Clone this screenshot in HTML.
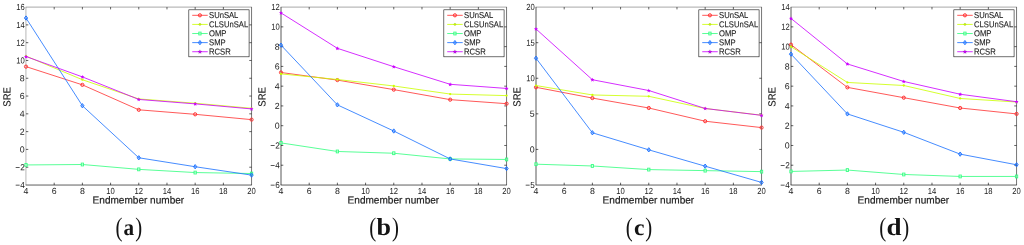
<!DOCTYPE html>
<html lang="en"><head><meta charset="utf-8"><title>SRE vs Endmember number</title>
<style>html,body{margin:0;padding:0;background:#fff;}body{width:1024px;height:245px;position:relative;overflow:hidden;}</style>
</head><body>
<svg text-rendering="geometricPrecision" width="1024" height="245" viewBox="0 0 1024 245" style="display:block;position:absolute;left:0;top:0">
<rect width="1024" height="245" fill="#fff"/>
<g><path d="M25.70 7.10H251.85" fill="none" stroke="#0a0a0a" stroke-width="0.36"/>
<path d="M25.93 7.10V185.00" fill="none" stroke="#0a0a0a" stroke-width="0.3"/>
<path d="M25.70 185.04H251.85" fill="none" stroke="#0a0a0a" stroke-width="0.66"/>
<path d="M251.55 7.10V185.00" fill="none" stroke="#0a0a0a" stroke-width="0.56"/>
<path d="M54.19 185.00v-2.3M54.19 7.10v2.3M82.39 185.00v-2.3M82.39 7.10v2.3M110.58 185.00v-2.3M110.58 7.10v2.3M138.78 185.00v-2.3M138.78 7.10v2.3M166.97 185.00v-2.3M166.97 7.10v2.3M195.16 185.00v-2.3M195.16 7.10v2.3M223.36 185.00v-2.3M223.36 7.10v2.3M26.00 167.21h2.3M251.55 167.21h-2.3M26.00 149.42h2.3M251.55 149.42h-2.3M26.00 131.63h2.3M251.55 131.63h-2.3M26.00 113.84h2.3M251.55 113.84h-2.3M26.00 96.05h2.3M251.55 96.05h-2.3M26.00 78.26h2.3M251.55 78.26h-2.3M26.00 60.47h2.3M251.55 60.47h-2.3M26.00 42.68h2.3M251.55 42.68h-2.3M26.00 24.89h2.3M251.55 24.89h-2.3" stroke="#000" stroke-width="0.62" fill="none"/>
<polyline points="26.00,66.62 82.39,84.85 138.78,109.81 195.16,114.32 251.55,119.63" fill="none" stroke="#ff3333" stroke-opacity="1" stroke-width="0.82" stroke-linejoin="round"/>
<circle cx="26.00" cy="66.62" r="1.6" fill="#ff3333" fill-opacity="0.1" stroke="#ff3333" stroke-width="1.0"/>
<circle cx="82.39" cy="84.85" r="1.6" fill="#ff3333" fill-opacity="0.1" stroke="#ff3333" stroke-width="1.0"/>
<circle cx="138.78" cy="109.81" r="1.6" fill="#ff3333" fill-opacity="0.1" stroke="#ff3333" stroke-width="1.0"/>
<circle cx="195.16" cy="114.32" r="1.6" fill="#ff3333" fill-opacity="0.1" stroke="#ff3333" stroke-width="1.0"/>
<circle cx="251.55" cy="119.63" r="1.6" fill="#ff3333" fill-opacity="0.1" stroke="#ff3333" stroke-width="1.0"/>
<polyline points="26.00,56.09 82.39,79.72 138.78,98.92 195.16,103.26 251.55,108.31" fill="none" stroke="#ccff00" stroke-opacity="1" stroke-width="0.82" stroke-linejoin="round"/>
<circle cx="26.00" cy="56.09" r="1.15" fill="#ccff00"/>
<circle cx="82.39" cy="79.72" r="1.15" fill="#ccff00"/>
<circle cx="138.78" cy="98.92" r="1.15" fill="#ccff00"/>
<circle cx="195.16" cy="103.26" r="1.15" fill="#ccff00"/>
<circle cx="251.55" cy="108.31" r="1.15" fill="#ccff00"/>
<polyline points="26.00,164.95 82.39,164.50 138.78,169.37 195.16,172.56 251.55,173.53" fill="none" stroke="#33ff80" stroke-opacity="1" stroke-width="0.82" stroke-linejoin="round"/>
<rect x="24.85" y="163.55" width="2.3" height="2.8" fill="#fff" fill-opacity="0.4" stroke="#33ff80" stroke-width="0.9"/>
<rect x="81.24" y="163.10" width="2.3" height="2.8" fill="#fff" fill-opacity="0.4" stroke="#33ff80" stroke-width="0.9"/>
<rect x="137.62" y="167.97" width="2.3" height="2.8" fill="#fff" fill-opacity="0.4" stroke="#33ff80" stroke-width="0.9"/>
<rect x="194.01" y="171.16" width="2.3" height="2.8" fill="#fff" fill-opacity="0.4" stroke="#33ff80" stroke-width="0.9"/>
<rect x="250.40" y="172.13" width="2.3" height="2.8" fill="#fff" fill-opacity="0.4" stroke="#33ff80" stroke-width="0.9"/>
<polyline points="26.00,18.03 82.39,105.74 138.78,157.78 195.16,166.72 251.55,175.12" fill="none" stroke="#1c72ff" stroke-opacity="1" stroke-width="0.82" stroke-linejoin="round"/>
<path d="M26.00 15.88L27.60 18.03L26.00 20.18L24.40 18.03Z" fill="#1c72ff" fill-opacity="0.3" stroke="#1c72ff" stroke-width="0.95"/>
<path d="M82.39 103.59L83.99 105.74L82.39 107.89L80.79 105.74Z" fill="#1c72ff" fill-opacity="0.3" stroke="#1c72ff" stroke-width="0.95"/>
<path d="M138.78 155.63L140.38 157.78L138.78 159.93L137.18 157.78Z" fill="#1c72ff" fill-opacity="0.3" stroke="#1c72ff" stroke-width="0.95"/>
<path d="M195.16 164.56L196.76 166.72L195.16 168.87L193.56 166.72Z" fill="#1c72ff" fill-opacity="0.3" stroke="#1c72ff" stroke-width="0.95"/>
<path d="M251.55 172.97L253.15 175.12L251.55 177.27L249.95 175.12Z" fill="#1c72ff" fill-opacity="0.3" stroke="#1c72ff" stroke-width="0.95"/>
<polyline points="26.00,56.53 82.39,76.89 138.78,99.45 195.16,103.88 251.55,108.92" fill="none" stroke="#cc00ff" stroke-opacity="1" stroke-width="0.82" stroke-linejoin="round"/>
<polygon points="26.00,54.53 26.56,55.91 28.04,56.02 26.90,56.98 27.26,58.42 26.00,57.63 24.74,58.42 25.10,56.98 23.96,56.02 25.44,55.91" fill="#cc00ff"/>
<polygon points="82.39,74.89 82.95,76.27 84.43,76.37 83.29,77.33 83.65,78.78 82.39,77.99 81.12,78.78 81.48,77.33 80.34,76.37 81.83,76.27" fill="#cc00ff"/>
<polygon points="138.78,97.45 139.33,98.84 140.82,98.94 139.68,99.90 140.04,101.34 138.78,100.56 137.51,101.34 137.87,99.90 136.73,98.94 138.22,98.84" fill="#cc00ff"/>
<polygon points="195.16,101.88 195.72,103.26 197.21,103.37 196.07,104.32 196.43,105.77 195.16,104.98 193.90,105.77 194.26,104.32 193.12,103.37 194.60,103.26" fill="#cc00ff"/>
<polygon points="251.55,106.92 252.11,108.31 253.59,108.41 252.45,109.37 252.81,110.81 251.55,110.02 250.29,110.81 250.65,109.37 249.51,108.41 250.99,108.31" fill="#cc00ff"/>
<g font-family="'Liberation Sans',Arial,Helvetica,sans-serif" fill="#1c1c1c" stroke="#1c1c1c" stroke-width="0.12">
<text transform="translate(26.00 194.00) rotate(0.04)" font-size="8.8" text-anchor="middle" stroke="none">4</text>
<text transform="translate(54.19 194.00) rotate(0.04)" font-size="8.8" text-anchor="middle" stroke="none">6</text>
<text transform="translate(82.39 194.00) rotate(0.04)" font-size="8.8" text-anchor="middle" stroke="none">8</text>
<text transform="translate(110.58 194.00) rotate(0.04) scale(0.87 1)" font-size="8.8" text-anchor="middle" stroke="none">10</text>
<text transform="translate(138.78 194.00) rotate(0.04) scale(0.87 1)" font-size="8.8" text-anchor="middle" stroke="none">12</text>
<text transform="translate(166.97 194.00) rotate(0.04) scale(0.87 1)" font-size="8.8" text-anchor="middle" stroke="none">14</text>
<text transform="translate(195.16 194.00) rotate(0.04) scale(0.87 1)" font-size="8.8" text-anchor="middle" stroke="none">16</text>
<text transform="translate(223.36 194.00) rotate(0.04) scale(0.87 1)" font-size="8.8" text-anchor="middle" stroke="none">18</text>
<text transform="translate(251.55 194.00) rotate(0.04) scale(0.87 1)" font-size="8.8" text-anchor="middle" stroke="none">20</text>
<text transform="translate(24.70 188.00) rotate(0.04) scale(0.93 1)" font-size="8.8" text-anchor="end" stroke="none">−4</text>
<text transform="translate(24.70 170.21) rotate(0.04) scale(0.93 1)" font-size="8.8" text-anchor="end" stroke="none">−2</text>
<text transform="translate(24.70 152.42) rotate(0.04)" font-size="8.8" text-anchor="end" stroke="none">0</text>
<text transform="translate(24.70 134.63) rotate(0.04)" font-size="8.8" text-anchor="end" stroke="none">2</text>
<text transform="translate(24.70 116.84) rotate(0.04)" font-size="8.8" text-anchor="end" stroke="none">4</text>
<text transform="translate(24.70 99.05) rotate(0.04)" font-size="8.8" text-anchor="end" stroke="none">6</text>
<text transform="translate(24.70 81.26) rotate(0.04)" font-size="8.8" text-anchor="end" stroke="none">8</text>
<text transform="translate(24.70 63.47) rotate(0.04) scale(0.87 1)" font-size="8.8" text-anchor="end" stroke="none">10</text>
<text transform="translate(24.70 45.68) rotate(0.04) scale(0.87 1)" font-size="8.8" text-anchor="end" stroke="none">12</text>
<text transform="translate(24.70 27.89) rotate(0.04) scale(0.87 1)" font-size="8.8" text-anchor="end" stroke="none">14</text>
<text transform="translate(24.70 10.10) rotate(0.04) scale(0.87 1)" font-size="8.8" text-anchor="end" stroke="none">16</text>
<text transform="translate(138.38 203.55) rotate(0.04) scale(0.976 1)" font-size="10.3" text-anchor="middle" stroke-width="0.2">Endmember number</text>
<text transform="translate(10.60 96.95) rotate(-89.96) scale(0.91 1)" font-size="10.4" text-anchor="middle">SRE</text>
<rect x="188.83" y="9.82" width="60.25" height="47.0" fill="#fff" stroke="#0a0a0a" stroke-width="0.58"/>
<path d="M192.23 15.32H207.73" stroke="#ff3333" stroke-opacity="1" stroke-width="0.82"/>
<circle cx="199.93" cy="15.32" r="1.6" fill="#ff3333" fill-opacity="0.1" stroke="#ff3333" stroke-width="1.0"/>
<text transform="translate(209.03 18.07) rotate(0.04) scale(0.89 1)" font-size="8.6" text-anchor="start">SUnSAL</text>
<path d="M192.23 24.42H207.73" stroke="#ccff00" stroke-opacity="1" stroke-width="0.82"/>
<circle cx="199.93" cy="24.42" r="1.15" fill="#ccff00"/>
<text transform="translate(209.03 27.17) rotate(0.04) scale(0.89 1)" font-size="8.6" text-anchor="start">CLSUnSAL</text>
<path d="M192.23 33.52H207.73" stroke="#33ff80" stroke-opacity="1" stroke-width="0.82"/>
<rect x="198.78" y="32.12" width="2.3" height="2.8" fill="#fff" fill-opacity="0.4" stroke="#33ff80" stroke-width="0.9"/>
<text transform="translate(209.03 36.27) rotate(0.04) scale(0.89 1)" font-size="8.6" text-anchor="start">OMP</text>
<path d="M192.23 42.62H207.73" stroke="#1c72ff" stroke-opacity="1" stroke-width="0.82"/>
<path d="M199.93 40.47L201.53 42.62L199.93 44.77L198.33 42.62Z" fill="#1c72ff" fill-opacity="0.3" stroke="#1c72ff" stroke-width="0.95"/>
<text transform="translate(209.03 45.37) rotate(0.04) scale(0.89 1)" font-size="8.6" text-anchor="start">SMP</text>
<path d="M192.23 51.72H207.73" stroke="#cc00ff" stroke-opacity="1" stroke-width="0.82"/>
<polygon points="199.93,49.72 200.49,51.10 201.97,51.21 200.83,52.16 201.19,53.61 199.93,52.82 198.67,53.61 199.03,52.16 197.89,51.21 199.37,51.10" fill="#cc00ff"/>
<text transform="translate(209.03 54.47) rotate(0.04) scale(0.89 1)" font-size="8.6" text-anchor="start">RCSR</text>
</g>
<text font-family="'Liberation Serif','Times New Roman',serif" fill="#141414" font-size="26.8"><tspan x="115.52" y="236.30" textLength="6.96" lengthAdjust="spacingAndGlyphs">(</tspan><tspan x="123.55" y="235.30" font-size="22.8" font-weight="bold" textLength="10.60" lengthAdjust="spacingAndGlyphs">a</tspan><tspan x="135.32" y="236.30" textLength="6.96" lengthAdjust="spacingAndGlyphs">)</tspan></text></g>
<g><path d="M280.70 7.10H506.85" fill="none" stroke="#0a0a0a" stroke-width="0.36"/>
<path d="M281.00 7.10V185.00" fill="none" stroke="#0a0a0a" stroke-width="0.68"/>
<path d="M280.70 185.04H506.85" fill="none" stroke="#0a0a0a" stroke-width="0.66"/>
<path d="M506.55 7.10V185.00" fill="none" stroke="#0a0a0a" stroke-width="0.56"/>
<path d="M309.19 185.00v-2.3M309.19 7.10v2.3M337.39 185.00v-2.3M337.39 7.10v2.3M365.58 185.00v-2.3M365.58 7.10v2.3M393.77 185.00v-2.3M393.77 7.10v2.3M421.97 185.00v-2.3M421.97 7.10v2.3M450.16 185.00v-2.3M450.16 7.10v2.3M478.36 185.00v-2.3M478.36 7.10v2.3M281.00 165.23h2.3M506.55 165.23h-2.3M281.00 145.47h2.3M506.55 145.47h-2.3M281.00 125.70h2.3M506.55 125.70h-2.3M281.00 105.93h2.3M506.55 105.93h-2.3M281.00 86.17h2.3M506.55 86.17h-2.3M281.00 66.40h2.3M506.55 66.40h-2.3M281.00 46.63h2.3M506.55 46.63h-2.3M281.00 26.87h2.3M506.55 26.87h-2.3" stroke="#000" stroke-width="0.62" fill="none"/>
<polyline points="281.00,72.51 337.39,80.08 393.77,89.62 450.16,99.65 506.55,103.68" fill="none" stroke="#ff3333" stroke-opacity="1" stroke-width="0.82" stroke-linejoin="round"/>
<circle cx="281.00" cy="72.51" r="1.6" fill="#ff3333" fill-opacity="0.1" stroke="#ff3333" stroke-width="1.0"/>
<circle cx="337.39" cy="80.08" r="1.6" fill="#ff3333" fill-opacity="0.1" stroke="#ff3333" stroke-width="1.0"/>
<circle cx="393.77" cy="89.62" r="1.6" fill="#ff3333" fill-opacity="0.1" stroke="#ff3333" stroke-width="1.0"/>
<circle cx="450.16" cy="99.65" r="1.6" fill="#ff3333" fill-opacity="0.1" stroke="#ff3333" stroke-width="1.0"/>
<circle cx="506.55" cy="103.68" r="1.6" fill="#ff3333" fill-opacity="0.1" stroke="#ff3333" stroke-width="1.0"/>
<polyline points="281.00,73.89 337.39,79.49 393.77,85.98 450.16,94.05 506.55,95.62" fill="none" stroke="#ccff00" stroke-opacity="1" stroke-width="0.82" stroke-linejoin="round"/>
<circle cx="281.00" cy="73.89" r="1.15" fill="#ccff00"/>
<circle cx="337.39" cy="79.49" r="1.15" fill="#ccff00"/>
<circle cx="393.77" cy="85.98" r="1.15" fill="#ccff00"/>
<circle cx="450.16" cy="94.05" r="1.15" fill="#ccff00"/>
<circle cx="506.55" cy="95.62" r="1.15" fill="#ccff00"/>
<polyline points="281.00,142.92 337.39,151.47 393.77,153.24 450.16,158.95 506.55,159.44" fill="none" stroke="#33ff80" stroke-opacity="1" stroke-width="0.82" stroke-linejoin="round"/>
<rect x="279.85" y="141.52" width="2.3" height="2.8" fill="#fff" fill-opacity="0.4" stroke="#33ff80" stroke-width="0.9"/>
<rect x="336.24" y="150.07" width="2.3" height="2.8" fill="#fff" fill-opacity="0.4" stroke="#33ff80" stroke-width="0.9"/>
<rect x="392.62" y="151.84" width="2.3" height="2.8" fill="#fff" fill-opacity="0.4" stroke="#33ff80" stroke-width="0.9"/>
<rect x="449.01" y="157.55" width="2.3" height="2.8" fill="#fff" fill-opacity="0.4" stroke="#33ff80" stroke-width="0.9"/>
<rect x="505.40" y="158.04" width="2.3" height="2.8" fill="#fff" fill-opacity="0.4" stroke="#33ff80" stroke-width="0.9"/>
<polyline points="281.00,45.17 337.39,104.86 393.77,131.02 450.16,158.95 506.55,168.58" fill="none" stroke="#1c72ff" stroke-opacity="1" stroke-width="0.82" stroke-linejoin="round"/>
<path d="M281.00 43.02L282.60 45.17L281.00 47.32L279.40 45.17Z" fill="#1c72ff" fill-opacity="0.3" stroke="#1c72ff" stroke-width="0.95"/>
<path d="M337.39 102.71L338.99 104.86L337.39 107.01L335.79 104.86Z" fill="#1c72ff" fill-opacity="0.3" stroke="#1c72ff" stroke-width="0.95"/>
<path d="M393.77 128.87L395.38 131.02L393.77 133.17L392.17 131.02Z" fill="#1c72ff" fill-opacity="0.3" stroke="#1c72ff" stroke-width="0.95"/>
<path d="M450.16 156.80L451.76 158.95L450.16 161.10L448.56 158.95Z" fill="#1c72ff" fill-opacity="0.3" stroke="#1c72ff" stroke-width="0.95"/>
<path d="M506.55 166.43L508.15 168.58L506.55 170.73L504.95 168.58Z" fill="#1c72ff" fill-opacity="0.3" stroke="#1c72ff" stroke-width="0.95"/>
<polyline points="281.00,12.92 337.39,48.32 393.77,66.71 450.16,84.31 506.55,88.44" fill="none" stroke="#cc00ff" stroke-opacity="1" stroke-width="0.82" stroke-linejoin="round"/>
<polygon points="281.00,10.92 281.56,12.30 283.04,12.41 281.90,13.37 282.26,14.81 281.00,14.02 279.74,14.81 280.10,13.37 278.96,12.41 280.44,12.30" fill="#cc00ff"/>
<polygon points="337.39,46.32 337.95,47.70 339.43,47.81 338.29,48.77 338.65,50.21 337.39,49.42 336.12,50.21 336.48,48.77 335.34,47.81 336.83,47.70" fill="#cc00ff"/>
<polygon points="393.77,64.71 394.33,66.09 395.82,66.20 394.68,67.15 395.04,68.60 393.77,67.81 392.51,68.60 392.87,67.15 391.73,66.20 393.22,66.09" fill="#cc00ff"/>
<polygon points="450.16,82.31 450.72,83.69 452.21,83.80 451.07,84.76 451.43,86.20 450.16,85.41 448.90,86.20 449.26,84.76 448.12,83.80 449.60,83.69" fill="#cc00ff"/>
<polygon points="506.55,86.44 507.11,87.82 508.59,87.93 507.45,88.89 507.81,90.33 506.55,89.54 505.29,90.33 505.65,88.89 504.51,87.93 505.99,87.82" fill="#cc00ff"/>
<g font-family="'Liberation Sans',Arial,Helvetica,sans-serif" fill="#1c1c1c" stroke="#1c1c1c" stroke-width="0.12">
<text transform="translate(281.00 194.00) rotate(0.04)" font-size="8.8" text-anchor="middle" stroke="none">4</text>
<text transform="translate(309.19 194.00) rotate(0.04)" font-size="8.8" text-anchor="middle" stroke="none">6</text>
<text transform="translate(337.39 194.00) rotate(0.04)" font-size="8.8" text-anchor="middle" stroke="none">8</text>
<text transform="translate(365.58 194.00) rotate(0.04) scale(0.87 1)" font-size="8.8" text-anchor="middle" stroke="none">10</text>
<text transform="translate(393.77 194.00) rotate(0.04) scale(0.87 1)" font-size="8.8" text-anchor="middle" stroke="none">12</text>
<text transform="translate(421.97 194.00) rotate(0.04) scale(0.87 1)" font-size="8.8" text-anchor="middle" stroke="none">14</text>
<text transform="translate(450.16 194.00) rotate(0.04) scale(0.87 1)" font-size="8.8" text-anchor="middle" stroke="none">16</text>
<text transform="translate(478.36 194.00) rotate(0.04) scale(0.87 1)" font-size="8.8" text-anchor="middle" stroke="none">18</text>
<text transform="translate(506.55 194.00) rotate(0.04) scale(0.87 1)" font-size="8.8" text-anchor="middle" stroke="none">20</text>
<text transform="translate(279.70 188.00) rotate(0.04) scale(0.93 1)" font-size="8.8" text-anchor="end" stroke="none">−6</text>
<text transform="translate(279.70 168.23) rotate(0.04) scale(0.93 1)" font-size="8.8" text-anchor="end" stroke="none">−4</text>
<text transform="translate(279.70 148.47) rotate(0.04) scale(0.93 1)" font-size="8.8" text-anchor="end" stroke="none">−2</text>
<text transform="translate(279.70 128.70) rotate(0.04)" font-size="8.8" text-anchor="end" stroke="none">0</text>
<text transform="translate(279.70 108.93) rotate(0.04)" font-size="8.8" text-anchor="end" stroke="none">2</text>
<text transform="translate(279.70 89.17) rotate(0.04)" font-size="8.8" text-anchor="end" stroke="none">4</text>
<text transform="translate(279.70 69.40) rotate(0.04)" font-size="8.8" text-anchor="end" stroke="none">6</text>
<text transform="translate(279.70 49.63) rotate(0.04)" font-size="8.8" text-anchor="end" stroke="none">8</text>
<text transform="translate(279.70 29.87) rotate(0.04) scale(0.87 1)" font-size="8.8" text-anchor="end" stroke="none">10</text>
<text transform="translate(279.70 10.10) rotate(0.04) scale(0.87 1)" font-size="8.8" text-anchor="end" stroke="none">12</text>
<text transform="translate(393.38 203.55) rotate(0.04) scale(0.976 1)" font-size="10.3" text-anchor="middle" stroke-width="0.2">Endmember number</text>
<text transform="translate(265.60 96.95) rotate(-89.96) scale(0.91 1)" font-size="10.4" text-anchor="middle">SRE</text>
<rect x="443.83" y="9.82" width="60.25" height="47.0" fill="#fff" stroke="#0a0a0a" stroke-width="0.58"/>
<path d="M447.23 15.32H462.73" stroke="#ff3333" stroke-opacity="1" stroke-width="0.82"/>
<circle cx="454.93" cy="15.32" r="1.6" fill="#ff3333" fill-opacity="0.1" stroke="#ff3333" stroke-width="1.0"/>
<text transform="translate(464.03 18.07) rotate(0.04) scale(0.89 1)" font-size="8.6" text-anchor="start">SUnSAL</text>
<path d="M447.23 24.42H462.73" stroke="#ccff00" stroke-opacity="1" stroke-width="0.82"/>
<circle cx="454.93" cy="24.42" r="1.15" fill="#ccff00"/>
<text transform="translate(464.03 27.17) rotate(0.04) scale(0.89 1)" font-size="8.6" text-anchor="start">CLSUnSAL</text>
<path d="M447.23 33.52H462.73" stroke="#33ff80" stroke-opacity="1" stroke-width="0.82"/>
<rect x="453.78" y="32.12" width="2.3" height="2.8" fill="#fff" fill-opacity="0.4" stroke="#33ff80" stroke-width="0.9"/>
<text transform="translate(464.03 36.27) rotate(0.04) scale(0.89 1)" font-size="8.6" text-anchor="start">OMP</text>
<path d="M447.23 42.62H462.73" stroke="#1c72ff" stroke-opacity="1" stroke-width="0.82"/>
<path d="M454.93 40.47L456.53 42.62L454.93 44.77L453.33 42.62Z" fill="#1c72ff" fill-opacity="0.3" stroke="#1c72ff" stroke-width="0.95"/>
<text transform="translate(464.03 45.37) rotate(0.04) scale(0.89 1)" font-size="8.6" text-anchor="start">SMP</text>
<path d="M447.23 51.72H462.73" stroke="#cc00ff" stroke-opacity="1" stroke-width="0.82"/>
<polygon points="454.93,49.72 455.49,51.10 456.97,51.21 455.83,52.16 456.19,53.61 454.93,52.82 453.67,53.61 454.03,52.16 452.89,51.21 454.37,51.10" fill="#cc00ff"/>
<text transform="translate(464.03 54.47) rotate(0.04) scale(0.89 1)" font-size="8.6" text-anchor="start">RCSR</text>
</g>
<text font-family="'Liberation Serif','Times New Roman',serif" fill="#141414" font-size="26.8"><tspan x="369.17" y="236.30" textLength="6.96" lengthAdjust="spacingAndGlyphs">(</tspan><tspan x="376.50" y="235.30" font-size="24.6" font-weight="bold" textLength="14.50" lengthAdjust="spacingAndGlyphs">b</tspan><tspan x="391.92" y="236.30" textLength="6.96" lengthAdjust="spacingAndGlyphs">)</tspan></text></g>
<g><path d="M535.70 7.10H761.85" fill="none" stroke="#0a0a0a" stroke-width="0.36"/>
<path d="M536.00 7.10V185.00" fill="none" stroke="#0a0a0a" stroke-width="0.68"/>
<path d="M535.70 185.04H761.85" fill="none" stroke="#0a0a0a" stroke-width="0.66"/>
<path d="M761.55 7.10V185.00" fill="none" stroke="#0a0a0a" stroke-width="0.56"/>
<path d="M564.19 185.00v-2.3M564.19 7.10v2.3M592.39 185.00v-2.3M592.39 7.10v2.3M620.58 185.00v-2.3M620.58 7.10v2.3M648.77 185.00v-2.3M648.77 7.10v2.3M676.97 185.00v-2.3M676.97 7.10v2.3M705.16 185.00v-2.3M705.16 7.10v2.3M733.36 185.00v-2.3M733.36 7.10v2.3M536.00 149.42h2.3M761.55 149.42h-2.3M536.00 113.84h2.3M761.55 113.84h-2.3M536.00 78.26h2.3M761.55 78.26h-2.3M536.00 42.68h2.3M761.55 42.68h-2.3" stroke="#000" stroke-width="0.62" fill="none"/>
<polyline points="536.00,87.31 592.39,98.07 648.77,107.99 705.16,121.23 761.55,127.60" fill="none" stroke="#ff3333" stroke-opacity="1" stroke-width="0.82" stroke-linejoin="round"/>
<circle cx="536.00" cy="87.31" r="1.6" fill="#ff3333" fill-opacity="0.1" stroke="#ff3333" stroke-width="1.0"/>
<circle cx="592.39" cy="98.07" r="1.6" fill="#ff3333" fill-opacity="0.1" stroke="#ff3333" stroke-width="1.0"/>
<circle cx="648.77" cy="107.99" r="1.6" fill="#ff3333" fill-opacity="0.1" stroke="#ff3333" stroke-width="1.0"/>
<circle cx="705.16" cy="121.23" r="1.6" fill="#ff3333" fill-opacity="0.1" stroke="#ff3333" stroke-width="1.0"/>
<circle cx="761.55" cy="127.60" r="1.6" fill="#ff3333" fill-opacity="0.1" stroke="#ff3333" stroke-width="1.0"/>
<polyline points="536.00,85.54 592.39,94.96 648.77,96.30 705.16,108.48 761.55,115.21" fill="none" stroke="#ccff00" stroke-opacity="1" stroke-width="0.82" stroke-linejoin="round"/>
<circle cx="536.00" cy="85.54" r="1.15" fill="#ccff00"/>
<circle cx="592.39" cy="94.96" r="1.15" fill="#ccff00"/>
<circle cx="648.77" cy="96.30" r="1.15" fill="#ccff00"/>
<circle cx="705.16" cy="108.48" r="1.15" fill="#ccff00"/>
<circle cx="761.55" cy="115.21" r="1.15" fill="#ccff00"/>
<polyline points="536.00,164.20 592.39,165.97 648.77,169.58 705.16,170.64 761.55,171.64" fill="none" stroke="#33ff80" stroke-opacity="1" stroke-width="0.82" stroke-linejoin="round"/>
<rect x="534.85" y="162.80" width="2.3" height="2.8" fill="#fff" fill-opacity="0.4" stroke="#33ff80" stroke-width="0.9"/>
<rect x="591.24" y="164.57" width="2.3" height="2.8" fill="#fff" fill-opacity="0.4" stroke="#33ff80" stroke-width="0.9"/>
<rect x="647.62" y="168.18" width="2.3" height="2.8" fill="#fff" fill-opacity="0.4" stroke="#33ff80" stroke-width="0.9"/>
<rect x="704.01" y="169.24" width="2.3" height="2.8" fill="#fff" fill-opacity="0.4" stroke="#33ff80" stroke-width="0.9"/>
<rect x="760.40" y="170.24" width="2.3" height="2.8" fill="#fff" fill-opacity="0.4" stroke="#33ff80" stroke-width="0.9"/>
<polyline points="536.00,58.21 592.39,132.77 648.77,149.83 705.16,166.18 761.55,182.40" fill="none" stroke="#1c72ff" stroke-opacity="1" stroke-width="0.82" stroke-linejoin="round"/>
<path d="M536.00 56.06L537.60 58.21L536.00 60.36L534.40 58.21Z" fill="#1c72ff" fill-opacity="0.3" stroke="#1c72ff" stroke-width="0.95"/>
<path d="M592.39 130.62L593.99 132.77L592.39 134.92L590.79 132.77Z" fill="#1c72ff" fill-opacity="0.3" stroke="#1c72ff" stroke-width="0.95"/>
<path d="M648.77 147.68L650.38 149.83L648.77 151.98L647.17 149.83Z" fill="#1c72ff" fill-opacity="0.3" stroke="#1c72ff" stroke-width="0.95"/>
<path d="M705.16 164.03L706.76 166.18L705.16 168.33L703.56 166.18Z" fill="#1c72ff" fill-opacity="0.3" stroke="#1c72ff" stroke-width="0.95"/>
<path d="M761.55 180.25L763.15 182.40L761.55 184.55L759.95 182.40Z" fill="#1c72ff" fill-opacity="0.3" stroke="#1c72ff" stroke-width="0.95"/>
<polyline points="536.00,28.97 592.39,79.74 648.77,90.50 705.16,108.48 761.55,115.35" fill="none" stroke="#cc00ff" stroke-opacity="1" stroke-width="0.82" stroke-linejoin="round"/>
<polygon points="536.00,26.97 536.56,28.36 538.04,28.46 536.90,29.42 537.26,30.86 536.00,30.07 534.74,30.86 535.10,29.42 533.96,28.46 535.44,28.36" fill="#cc00ff"/>
<polygon points="592.39,77.74 592.95,79.12 594.43,79.22 593.29,80.18 593.65,81.63 592.39,80.84 591.12,81.63 591.48,80.18 590.34,79.22 591.83,79.12" fill="#cc00ff"/>
<polygon points="648.77,88.50 649.33,89.88 650.82,89.98 649.68,90.94 650.04,92.39 648.77,91.60 647.51,92.39 647.87,90.94 646.73,89.98 648.22,89.88" fill="#cc00ff"/>
<polygon points="705.16,106.48 705.72,107.86 707.21,107.97 706.07,108.93 706.43,110.37 705.16,109.58 703.90,110.37 704.26,108.93 703.12,107.97 704.60,107.86" fill="#cc00ff"/>
<polygon points="761.55,113.35 762.11,114.73 763.59,114.84 762.45,115.79 762.81,117.24 761.55,116.45 760.29,117.24 760.65,115.79 759.51,114.84 760.99,114.73" fill="#cc00ff"/>
<g font-family="'Liberation Sans',Arial,Helvetica,sans-serif" fill="#1c1c1c" stroke="#1c1c1c" stroke-width="0.12">
<text transform="translate(536.00 194.00) rotate(0.04)" font-size="8.8" text-anchor="middle" stroke="none">4</text>
<text transform="translate(564.19 194.00) rotate(0.04)" font-size="8.8" text-anchor="middle" stroke="none">6</text>
<text transform="translate(592.39 194.00) rotate(0.04)" font-size="8.8" text-anchor="middle" stroke="none">8</text>
<text transform="translate(620.58 194.00) rotate(0.04) scale(0.87 1)" font-size="8.8" text-anchor="middle" stroke="none">10</text>
<text transform="translate(648.77 194.00) rotate(0.04) scale(0.87 1)" font-size="8.8" text-anchor="middle" stroke="none">12</text>
<text transform="translate(676.97 194.00) rotate(0.04) scale(0.87 1)" font-size="8.8" text-anchor="middle" stroke="none">14</text>
<text transform="translate(705.16 194.00) rotate(0.04) scale(0.87 1)" font-size="8.8" text-anchor="middle" stroke="none">16</text>
<text transform="translate(733.36 194.00) rotate(0.04) scale(0.87 1)" font-size="8.8" text-anchor="middle" stroke="none">18</text>
<text transform="translate(761.55 194.00) rotate(0.04) scale(0.87 1)" font-size="8.8" text-anchor="middle" stroke="none">20</text>
<text transform="translate(534.70 188.00) rotate(0.04) scale(0.93 1)" font-size="8.8" text-anchor="end" stroke="none">−5</text>
<text transform="translate(534.70 152.42) rotate(0.04)" font-size="8.8" text-anchor="end" stroke="none">0</text>
<text transform="translate(534.70 116.84) rotate(0.04)" font-size="8.8" text-anchor="end" stroke="none">5</text>
<text transform="translate(534.70 81.26) rotate(0.04) scale(0.87 1)" font-size="8.8" text-anchor="end" stroke="none">10</text>
<text transform="translate(534.70 45.68) rotate(0.04) scale(0.87 1)" font-size="8.8" text-anchor="end" stroke="none">15</text>
<text transform="translate(534.70 10.10) rotate(0.04) scale(0.87 1)" font-size="8.8" text-anchor="end" stroke="none">20</text>
<text transform="translate(648.38 203.55) rotate(0.04) scale(0.976 1)" font-size="10.3" text-anchor="middle" stroke-width="0.2">Endmember number</text>
<text transform="translate(520.60 96.95) rotate(-89.96) scale(0.91 1)" font-size="10.4" text-anchor="middle">SRE</text>
<rect x="698.83" y="9.82" width="60.25" height="47.0" fill="#fff" stroke="#0a0a0a" stroke-width="0.58"/>
<path d="M702.23 15.32H717.73" stroke="#ff3333" stroke-opacity="1" stroke-width="0.82"/>
<circle cx="709.93" cy="15.32" r="1.6" fill="#ff3333" fill-opacity="0.1" stroke="#ff3333" stroke-width="1.0"/>
<text transform="translate(719.03 18.07) rotate(0.04) scale(0.89 1)" font-size="8.6" text-anchor="start">SUnSAL</text>
<path d="M702.23 24.42H717.73" stroke="#ccff00" stroke-opacity="1" stroke-width="0.82"/>
<circle cx="709.93" cy="24.42" r="1.15" fill="#ccff00"/>
<text transform="translate(719.03 27.17) rotate(0.04) scale(0.89 1)" font-size="8.6" text-anchor="start">CLSUnSAL</text>
<path d="M702.23 33.52H717.73" stroke="#33ff80" stroke-opacity="1" stroke-width="0.82"/>
<rect x="708.78" y="32.12" width="2.3" height="2.8" fill="#fff" fill-opacity="0.4" stroke="#33ff80" stroke-width="0.9"/>
<text transform="translate(719.03 36.27) rotate(0.04) scale(0.89 1)" font-size="8.6" text-anchor="start">OMP</text>
<path d="M702.23 42.62H717.73" stroke="#1c72ff" stroke-opacity="1" stroke-width="0.82"/>
<path d="M709.93 40.47L711.53 42.62L709.93 44.77L708.33 42.62Z" fill="#1c72ff" fill-opacity="0.3" stroke="#1c72ff" stroke-width="0.95"/>
<text transform="translate(719.03 45.37) rotate(0.04) scale(0.89 1)" font-size="8.6" text-anchor="start">SMP</text>
<path d="M702.23 51.72H717.73" stroke="#cc00ff" stroke-opacity="1" stroke-width="0.82"/>
<polygon points="709.93,49.72 710.49,51.10 711.97,51.21 710.83,52.16 711.19,53.61 709.93,52.82 708.67,53.61 709.03,52.16 707.89,51.21 709.37,51.10" fill="#cc00ff"/>
<text transform="translate(719.03 54.47) rotate(0.04) scale(0.89 1)" font-size="8.6" text-anchor="start">RCSR</text>
</g>
<text font-family="'Liberation Serif','Times New Roman',serif" fill="#141414" font-size="26.8"><tspan x="625.82" y="236.30" textLength="6.96" lengthAdjust="spacingAndGlyphs">(</tspan><tspan x="633.94" y="235.30" font-size="22.8" font-weight="bold" textLength="10.53" lengthAdjust="spacingAndGlyphs">c</tspan><tspan x="645.27" y="236.30" textLength="6.96" lengthAdjust="spacingAndGlyphs">)</tspan></text></g>
<g><path d="M790.70 7.10H1016.85" fill="none" stroke="#0a0a0a" stroke-width="0.36"/>
<path d="M791.00 7.10V185.00" fill="none" stroke="#0a0a0a" stroke-width="0.68"/>
<path d="M790.70 185.04H1016.85" fill="none" stroke="#0a0a0a" stroke-width="0.66"/>
<path d="M1016.55 7.10V185.00" fill="none" stroke="#0a0a0a" stroke-width="0.56"/>
<path d="M819.19 185.00v-2.3M819.19 7.10v2.3M847.39 185.00v-2.3M847.39 7.10v2.3M875.58 185.00v-2.3M875.58 7.10v2.3M903.77 185.00v-2.3M903.77 7.10v2.3M931.97 185.00v-2.3M931.97 7.10v2.3M960.16 185.00v-2.3M960.16 7.10v2.3M988.36 185.00v-2.3M988.36 7.10v2.3M791.00 165.23h2.3M1016.55 165.23h-2.3M791.00 145.47h2.3M1016.55 145.47h-2.3M791.00 125.70h2.3M1016.55 125.70h-2.3M791.00 105.93h2.3M1016.55 105.93h-2.3M791.00 86.17h2.3M1016.55 86.17h-2.3M791.00 66.40h2.3M1016.55 66.40h-2.3M791.00 46.63h2.3M1016.55 46.63h-2.3M791.00 26.87h2.3M1016.55 26.87h-2.3" stroke="#000" stroke-width="0.62" fill="none"/>
<polyline points="791.00,44.68 847.39,87.36 903.77,97.69 960.16,108.01 1016.55,113.91" fill="none" stroke="#ff3333" stroke-opacity="1" stroke-width="0.82" stroke-linejoin="round"/>
<circle cx="791.00" cy="44.68" r="1.6" fill="#ff3333" fill-opacity="0.1" stroke="#ff3333" stroke-width="1.0"/>
<circle cx="847.39" cy="87.36" r="1.6" fill="#ff3333" fill-opacity="0.1" stroke="#ff3333" stroke-width="1.0"/>
<circle cx="903.77" cy="97.69" r="1.6" fill="#ff3333" fill-opacity="0.1" stroke="#ff3333" stroke-width="1.0"/>
<circle cx="960.16" cy="108.01" r="1.6" fill="#ff3333" fill-opacity="0.1" stroke="#ff3333" stroke-width="1.0"/>
<circle cx="1016.55" cy="113.91" r="1.6" fill="#ff3333" fill-opacity="0.1" stroke="#ff3333" stroke-width="1.0"/>
<polyline points="791.00,46.65 847.39,82.44 903.77,85.49 960.16,98.47 1016.55,102.01" fill="none" stroke="#ccff00" stroke-opacity="1" stroke-width="0.82" stroke-linejoin="round"/>
<circle cx="791.00" cy="46.65" r="1.15" fill="#ccff00"/>
<circle cx="847.39" cy="82.44" r="1.15" fill="#ccff00"/>
<circle cx="903.77" cy="85.49" r="1.15" fill="#ccff00"/>
<circle cx="960.16" cy="98.47" r="1.15" fill="#ccff00"/>
<circle cx="1016.55" cy="102.01" r="1.15" fill="#ccff00"/>
<polyline points="791.00,171.44 847.39,170.06 903.77,174.48 960.16,176.45 1016.55,176.45" fill="none" stroke="#33ff80" stroke-opacity="1" stroke-width="0.82" stroke-linejoin="round"/>
<rect x="789.85" y="170.03" width="2.3" height="2.8" fill="#fff" fill-opacity="0.4" stroke="#33ff80" stroke-width="0.9"/>
<rect x="846.24" y="168.66" width="2.3" height="2.8" fill="#fff" fill-opacity="0.4" stroke="#33ff80" stroke-width="0.9"/>
<rect x="902.62" y="173.08" width="2.3" height="2.8" fill="#fff" fill-opacity="0.4" stroke="#33ff80" stroke-width="0.9"/>
<rect x="959.01" y="175.05" width="2.3" height="2.8" fill="#fff" fill-opacity="0.4" stroke="#33ff80" stroke-width="0.9"/>
<rect x="1015.40" y="175.05" width="2.3" height="2.8" fill="#fff" fill-opacity="0.4" stroke="#33ff80" stroke-width="0.9"/>
<polyline points="791.00,54.12 847.39,113.91 903.77,132.30 960.16,154.13 1016.55,164.75" fill="none" stroke="#1c72ff" stroke-opacity="1" stroke-width="0.82" stroke-linejoin="round"/>
<path d="M791.00 51.97L792.60 54.12L791.00 56.27L789.40 54.12Z" fill="#1c72ff" fill-opacity="0.3" stroke="#1c72ff" stroke-width="0.95"/>
<path d="M847.39 111.76L848.99 113.91L847.39 116.06L845.79 113.91Z" fill="#1c72ff" fill-opacity="0.3" stroke="#1c72ff" stroke-width="0.95"/>
<path d="M903.77 130.15L905.38 132.30L903.77 134.45L902.17 132.30Z" fill="#1c72ff" fill-opacity="0.3" stroke="#1c72ff" stroke-width="0.95"/>
<path d="M960.16 151.98L961.76 154.13L960.16 156.28L958.56 154.13Z" fill="#1c72ff" fill-opacity="0.3" stroke="#1c72ff" stroke-width="0.95"/>
<path d="M1016.55 162.60L1018.15 164.75L1016.55 166.90L1014.95 164.75Z" fill="#1c72ff" fill-opacity="0.3" stroke="#1c72ff" stroke-width="0.95"/>
<polyline points="791.00,18.43 847.39,63.96 903.77,81.46 960.16,94.24 1016.55,101.72" fill="none" stroke="#cc00ff" stroke-opacity="1" stroke-width="0.82" stroke-linejoin="round"/>
<polygon points="791.00,16.43 791.56,17.81 793.04,17.91 791.90,18.87 792.26,20.32 791.00,19.53 789.74,20.32 790.10,18.87 788.96,17.91 790.44,17.81" fill="#cc00ff"/>
<polygon points="847.39,61.96 847.95,63.34 849.43,63.44 848.29,64.40 848.65,65.85 847.39,65.06 846.12,65.85 846.48,64.40 845.34,63.44 846.83,63.34" fill="#cc00ff"/>
<polygon points="903.77,79.46 904.33,80.84 905.82,80.95 904.68,81.90 905.04,83.35 903.77,82.56 902.51,83.35 902.87,81.90 901.73,80.95 903.22,80.84" fill="#cc00ff"/>
<polygon points="960.16,92.24 960.72,93.62 962.21,93.73 961.07,94.69 961.43,96.13 960.16,95.34 958.90,96.13 959.26,94.69 958.12,93.73 959.60,93.62" fill="#cc00ff"/>
<polygon points="1016.55,99.72 1017.11,101.10 1018.59,101.20 1017.45,102.16 1017.81,103.61 1016.55,102.82 1015.29,103.61 1015.65,102.16 1014.51,101.20 1015.99,101.10" fill="#cc00ff"/>
<g font-family="'Liberation Sans',Arial,Helvetica,sans-serif" fill="#1c1c1c" stroke="#1c1c1c" stroke-width="0.12">
<text transform="translate(791.00 194.00) rotate(0.04)" font-size="8.8" text-anchor="middle" stroke="none">4</text>
<text transform="translate(819.19 194.00) rotate(0.04)" font-size="8.8" text-anchor="middle" stroke="none">6</text>
<text transform="translate(847.39 194.00) rotate(0.04)" font-size="8.8" text-anchor="middle" stroke="none">8</text>
<text transform="translate(875.58 194.00) rotate(0.04) scale(0.87 1)" font-size="8.8" text-anchor="middle" stroke="none">10</text>
<text transform="translate(903.77 194.00) rotate(0.04) scale(0.87 1)" font-size="8.8" text-anchor="middle" stroke="none">12</text>
<text transform="translate(931.97 194.00) rotate(0.04) scale(0.87 1)" font-size="8.8" text-anchor="middle" stroke="none">14</text>
<text transform="translate(960.16 194.00) rotate(0.04) scale(0.87 1)" font-size="8.8" text-anchor="middle" stroke="none">16</text>
<text transform="translate(988.36 194.00) rotate(0.04) scale(0.87 1)" font-size="8.8" text-anchor="middle" stroke="none">18</text>
<text transform="translate(1016.55 194.00) rotate(0.04) scale(0.87 1)" font-size="8.8" text-anchor="middle" stroke="none">20</text>
<text transform="translate(789.70 188.00) rotate(0.04) scale(0.93 1)" font-size="8.8" text-anchor="end" stroke="none">−4</text>
<text transform="translate(789.70 168.23) rotate(0.04) scale(0.93 1)" font-size="8.8" text-anchor="end" stroke="none">−2</text>
<text transform="translate(789.70 148.47) rotate(0.04)" font-size="8.8" text-anchor="end" stroke="none">0</text>
<text transform="translate(789.70 128.70) rotate(0.04)" font-size="8.8" text-anchor="end" stroke="none">2</text>
<text transform="translate(789.70 108.93) rotate(0.04)" font-size="8.8" text-anchor="end" stroke="none">4</text>
<text transform="translate(789.70 89.17) rotate(0.04)" font-size="8.8" text-anchor="end" stroke="none">6</text>
<text transform="translate(789.70 69.40) rotate(0.04)" font-size="8.8" text-anchor="end" stroke="none">8</text>
<text transform="translate(789.70 49.63) rotate(0.04) scale(0.87 1)" font-size="8.8" text-anchor="end" stroke="none">10</text>
<text transform="translate(789.70 29.87) rotate(0.04) scale(0.87 1)" font-size="8.8" text-anchor="end" stroke="none">12</text>
<text transform="translate(789.70 10.10) rotate(0.04) scale(0.87 1)" font-size="8.8" text-anchor="end" stroke="none">14</text>
<text transform="translate(903.38 203.55) rotate(0.04) scale(0.976 1)" font-size="10.3" text-anchor="middle" stroke-width="0.2">Endmember number</text>
<text transform="translate(775.60 96.95) rotate(-89.96) scale(0.91 1)" font-size="10.4" text-anchor="middle">SRE</text>
<rect x="953.83" y="9.82" width="60.25" height="47.0" fill="#fff" stroke="#0a0a0a" stroke-width="0.58"/>
<path d="M957.23 15.32H972.73" stroke="#ff3333" stroke-opacity="1" stroke-width="0.82"/>
<circle cx="964.93" cy="15.32" r="1.6" fill="#ff3333" fill-opacity="0.1" stroke="#ff3333" stroke-width="1.0"/>
<text transform="translate(974.03 18.07) rotate(0.04) scale(0.89 1)" font-size="8.6" text-anchor="start">SUnSAL</text>
<path d="M957.23 24.42H972.73" stroke="#ccff00" stroke-opacity="1" stroke-width="0.82"/>
<circle cx="964.93" cy="24.42" r="1.15" fill="#ccff00"/>
<text transform="translate(974.03 27.17) rotate(0.04) scale(0.89 1)" font-size="8.6" text-anchor="start">CLSUnSAL</text>
<path d="M957.23 33.52H972.73" stroke="#33ff80" stroke-opacity="1" stroke-width="0.82"/>
<rect x="963.78" y="32.12" width="2.3" height="2.8" fill="#fff" fill-opacity="0.4" stroke="#33ff80" stroke-width="0.9"/>
<text transform="translate(974.03 36.27) rotate(0.04) scale(0.89 1)" font-size="8.6" text-anchor="start">OMP</text>
<path d="M957.23 42.62H972.73" stroke="#1c72ff" stroke-opacity="1" stroke-width="0.82"/>
<path d="M964.93 40.47L966.53 42.62L964.93 44.77L963.33 42.62Z" fill="#1c72ff" fill-opacity="0.3" stroke="#1c72ff" stroke-width="0.95"/>
<text transform="translate(974.03 45.37) rotate(0.04) scale(0.89 1)" font-size="8.6" text-anchor="start">SMP</text>
<path d="M957.23 51.72H972.73" stroke="#cc00ff" stroke-opacity="1" stroke-width="0.82"/>
<polygon points="964.93,49.72 965.49,51.10 966.97,51.21 965.83,52.16 966.19,53.61 964.93,52.82 963.67,53.61 964.03,52.16 962.89,51.21 964.37,51.10" fill="#cc00ff"/>
<text transform="translate(974.03 54.47) rotate(0.04) scale(0.89 1)" font-size="8.6" text-anchor="start">RCSR</text>
</g>
<text font-family="'Liberation Serif','Times New Roman',serif" fill="#141414" font-size="26.8"><tspan x="879.17" y="236.30" textLength="6.96" lengthAdjust="spacingAndGlyphs">(</tspan><tspan x="886.43" y="235.30" font-size="24.6" font-weight="bold" textLength="15.05" lengthAdjust="spacingAndGlyphs">d</tspan><tspan x="902.27" y="236.30" textLength="6.96" lengthAdjust="spacingAndGlyphs">)</tspan></text></g>
</svg>
</body></html>
